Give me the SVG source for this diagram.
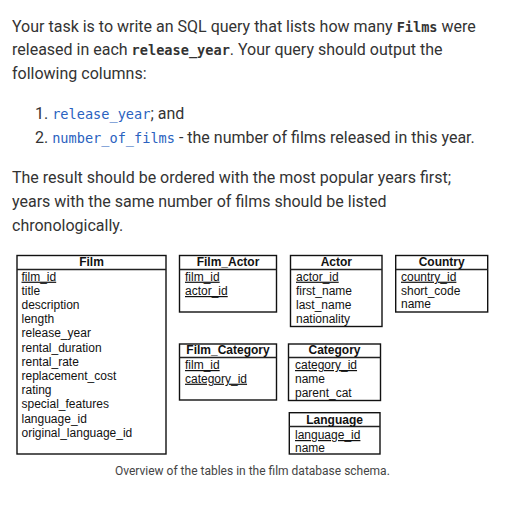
<svg xmlns="http://www.w3.org/2000/svg" width="516" height="506" viewBox="0 0 516 506">
<style>
.p{font-family:Roboto,"Liberation Sans",sans-serif;font-size:16px;fill:#333}
.c{font-family:"DejaVu Sans Mono","Liberation Mono",monospace;font-size:13.6px}
.cb{font-weight:bold;fill:#333}
.cl{fill:#2a62c0}
.box{fill:#fff;stroke:#111;stroke-width:1.4}
.sep{stroke:#222;stroke-width:1.6}
.h{font-family:"Liberation Sans",Arial,sans-serif;font-size:12px;font-weight:bold;fill:#111;text-anchor:middle}
.f{font-family:"Liberation Sans",Arial,sans-serif;font-size:12px;fill:#111}
.k{text-decoration:underline}
.cap{font-family:Roboto,"Liberation Sans",sans-serif;font-size:12px;fill:#444}
</style>
<rect width="516" height="506" fill="#fff"/>
<g id="text">
<text class="p" x="12" y="31.5">Your task is to write an SQL query that lists how many <tspan class="c cb">Films</tspan> were</text>
<text class="p" x="12" y="55">released in each <tspan class="c cb">release_year</tspan>. Your query should output the</text>
<text class="p" x="12" y="78.5">following columns:</text>
<text class="p" x="35" y="119">1. <tspan class="c cl">release_year</tspan>; and</text>
<text class="p" x="35" y="143.3">2. <tspan class="c cl">number_of_films</tspan> - the number of films released in this year.</text>
<text class="p" x="12" y="183.3">The result should be ordered with the most popular years first;</text>
<text class="p" x="12" y="207.3">years with the same number of films should be listed</text>
<text class="p" x="12" y="230.7">chronologically.</text>
</g>
<g id="connectors"></g>
<g id="film">
<rect class="box" x="17" y="255.5" width="149" height="198.5"/>
<line class="sep" x1="17" y1="269.5" x2="166" y2="269.5"/>
<text class="h" x="91.5" y="266">Film</text>
<text class="f" x="21.5" y="280.7"><tspan class="k">film_id</tspan><tspan x="21.5" dy="14.18">title</tspan><tspan x="21.5" dy="14.18">description</tspan><tspan x="21.5" dy="14.18">length</tspan><tspan x="21.5" dy="14.18">release_year</tspan><tspan x="21.5" dy="14.18">rental_duration</tspan><tspan x="21.5" dy="14.18">rental_rate</tspan><tspan x="21.5" dy="14.18">replacement_cost</tspan><tspan x="21.5" dy="14.18">rating</tspan><tspan x="21.5" dy="14.18">special_features</tspan><tspan x="21.5" dy="14.18">language_id</tspan><tspan x="21.5" dy="14.18">original_language_id</tspan></text>
</g>
<g id="film_actor">
<rect class="box" x="179.5" y="255.5" width="97" height="56.5"/>
<line class="sep" x1="179.5" y1="269.5" x2="276.5" y2="269.5"/>
<text class="h" x="228" y="266">Film_Actor</text>
<text class="f k" x="185" y="280.7">film_id</text>
<text class="f k" x="185" y="295">actor_id</text>
</g>
<g id="actor">
<rect class="box" x="290.5" y="255.5" width="91.5" height="71"/>
<line class="sep" x1="290.5" y1="269.5" x2="382" y2="269.5"/>
<text class="h" x="336.3" y="266">Actor</text>
<text class="f" x="296" y="280.7"><tspan class="k">actor_id</tspan><tspan x="296" dy="13.9">first_name</tspan><tspan x="296" dy="13.9">last_name</tspan><tspan x="296" dy="14">nationality</tspan></text>
</g>
<g id="country">
<rect class="box" x="395.7" y="255.5" width="92" height="56.5"/>
<line class="sep" x1="395.7" y1="269.5" x2="487.7" y2="269.5"/>
<text class="h" x="441.7" y="266">Country</text>
<text class="f" x="401" y="280.7"><tspan class="k">country_id</tspan><tspan x="401" dy="13.8">short_code</tspan><tspan x="401" dy="13.8">name</tspan></text>
</g>
<g id="film_category">
<rect class="box" x="179.5" y="344" width="97" height="56"/>
<line class="sep" x1="179.5" y1="357.5" x2="276.5" y2="357.5"/>
<text class="h" x="228" y="354">Film_Category</text>
<text class="f k" x="185" y="369">film_id</text>
<text class="f k" x="185" y="382.7">category_id</text>
</g>
<g id="category">
<rect class="box" x="288.5" y="344" width="92" height="56.5"/>
<line class="sep" x1="288.5" y1="357.5" x2="380.5" y2="357.5"/>
<text class="h" x="334.5" y="354">Category</text>
<text class="f" x="295" y="369"><tspan class="k">category_id</tspan><tspan x="295" dy="13.5">name</tspan><tspan x="295" dy="14.2">parent_cat</tspan></text>
</g>
<g id="language">
<rect class="box" x="289.3" y="412.7" width="90.7" height="41.3"/>
<line class="sep" x1="289.3" y1="426.5" x2="380" y2="426.5"/>
<text class="h" x="334.6" y="424">Language</text>
<text class="f" x="295" y="439"><tspan class="k">language_id</tspan><tspan x="295" dy="12.7">name</tspan></text>
</g>
<text class="cap" x="115" y="475">Overview of the tables in the film database schema.</text>
</svg>
